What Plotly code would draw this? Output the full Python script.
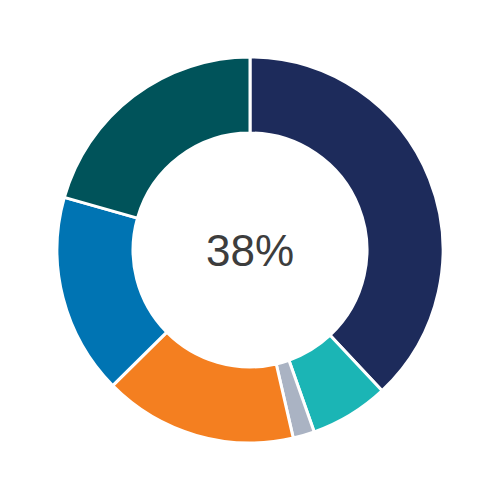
import plotly.graph_objects as go

labels = ["Navy", "Teal", "Gray", "Orange", "Blue", "Green"]
values = [38, 6.6, 1.8, 16.2, 16.8, 20.6]
colors = ["#1d2b5b", "#1bb5b5", "#aab3c3", "#f47f20", "#0074b3", "#00535a"]
center_text = "38%"

fig = go.Figure()
fig.add_trace(go.Pie(
    labels=labels,
    values=values,
    hole=0.606,
    sort=False,
    direction="clockwise",
    rotation=0,
    marker=dict(colors=colors, line=dict(color="white", width=3)),
    textinfo="none",
    hoverinfo="label+percent",
))

fig.add_annotation(
    x=0.5, y=0.5, xref="paper", yref="paper",
    text=center_text, showarrow=False,
    font=dict(family="Liberation Sans, Arial, sans-serif", size=44, color="#3d3d3d"),
)

# page body adds an 8px offset, so shift the plot area up/left
fig.update_layout(
    width=500, height=500,
    margin=dict(l=49, r=65, t=49, b=65),
    showlegend=False,
    paper_bgcolor="white",
    plot_bgcolor="white",
)

fig.write_html("out.html")
